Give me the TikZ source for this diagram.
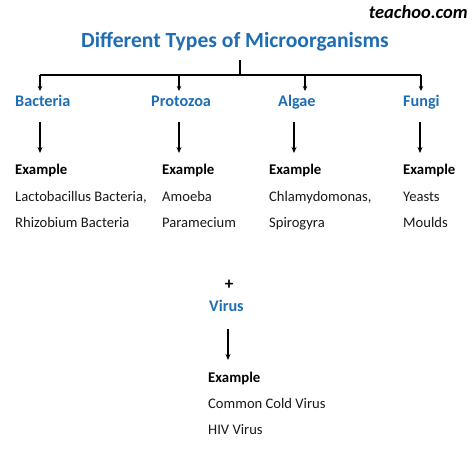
\documentclass[tikz,border=0pt]{standalone}
\usepackage{fontspec}
\setmainfont{Carlito}
\usetikzlibrary{arrows.meta}
\definecolor{hblue}{HTML}{1F6DB3}
\tikzset{
  title/.style={font=\fontsize{21.6}{24}\selectfont\bfseries, text=hblue, inner sep=0pt, anchor=base},
  cat/.style={font=\fontsize{16.2}{19}\selectfont\bfseries, text=hblue, inner sep=0pt, anchor=base west},
  exhead/.style={font=\fontsize{14.8}{17}\selectfont\bfseries, text=black, inner sep=0pt, anchor=base west},
  extext/.style={font=\fontsize{14.6}{17}\selectfont, text=black!90, inner sep=0pt, anchor=base west},
  conn/.style={line width=1.1pt, black},
  arr/.style={line width=1.1pt, black, -{Stealth[length=6pt,width=5pt]}},
  smallarr/.style={line width=1.1pt, black, -{Stealth[length=5pt,width=4.5pt]}},
}
\begin{document}
\begin{tikzpicture}[x=1pt,y=-1pt]
\useasboundingbox (0,0) rectangle (474,462);
\fill[white] (0,0) rectangle (474,462);
% logo
\node[font=\fontsize{18.5}{21}\selectfont\bfseries\itshape, inner sep=0pt, anchor=base east] (logo) at (468,19) {teachoo.com};
% title
\node[title] (title) at (235,48) {Different Types of Microorganisms};
\coordinate (top) at (240,60);
\coordinate (hub) at (240,75);
\coordinate (h1) at (40,75);
\coordinate (h2) at (179,75);
\coordinate (h3) at (305,75);
\coordinate (h4) at (421,75);
\coordinate (t1) at (40,91);
\coordinate (t2) at (179,91);
\coordinate (t3) at (305,91);
\coordinate (t4) at (421,91);
\draw[conn] (top) -- (hub);
\draw[conn] (h1) -- (h4);
\draw[smallarr] (h1) -- (t1);
\draw[smallarr] (h2) -- (t2);
\draw[smallarr] (h3) -- (t3);
\draw[smallarr] (h4) -- (t4);
% categories
\node[cat] (bac) at (15,107) {Bacteria};
\node[cat] (pro) at (151,107) {Protozoa};
\node[cat] (alg) at (278,107) {Algae};
\node[cat] (fun) at (403,107) {Fungi};
% down arrows
\coordinate (a1s) at (40,122); \coordinate (a1e) at (40,153);
\coordinate (a2s) at (179,122); \coordinate (a2e) at (179,153);
\coordinate (a3s) at (294,122); \coordinate (a3e) at (294,153);
\coordinate (a4s) at (420,122); \coordinate (a4e) at (420,153);
\draw[arr] (a1s) -- (a1e);
\draw[arr] (a2s) -- (a2e);
\draw[arr] (a3s) -- (a3e);
\draw[arr] (a4s) -- (a4e);
% examples
\node[exhead] (e1) at (15,175) {Example};
\node[extext] (e1a) at (15,202) {Lactobacillus Bacteria,};
\node[extext] (e1b) at (15,228) {Rhizobium Bacteria};
\node[exhead] (e2) at (162,175) {Example};
\node[extext] (e2a) at (162,202) {Amoeba};
\node[extext] (e2b) at (162,228) {Paramecium};
\node[exhead] (e3) at (269,175) {Example};
\node[extext] (e3a) at (269,202) {Chlamydomonas,};
\node[extext] (e3b) at (269,228) {Spirogyra};
\node[exhead] (e4) at (403,175) {Example};
\node[extext] (e4a) at (403,202) {Yeasts};
\node[extext] (e4b) at (403,228) {Moulds};
% virus
\node[font=\fontsize{17}{19}\selectfont\bfseries, inner sep=0pt, anchor=base] (plus) at (229,290) {+};
\node[cat] (vir) at (209,312) {Virus};
\coordinate (v1s) at (228,329); \coordinate (v1e) at (228,360);
\draw[arr] (v1s) -- (v1e);
\node[exhead] (e5) at (208,382) {Example};
\node[extext] (e5a) at (208,408) {Common Cold Virus};
\node[extext] (e5b) at (208,434) {HIV Virus};
\end{tikzpicture}
\end{document}
